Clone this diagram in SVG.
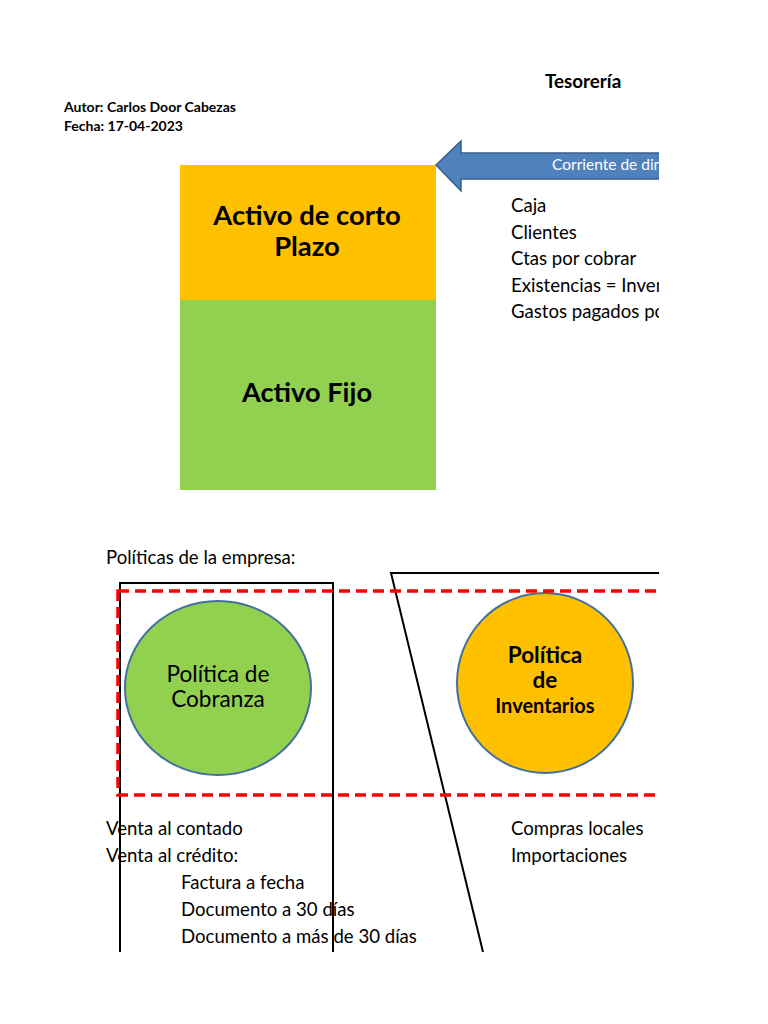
<svg xmlns="http://www.w3.org/2000/svg" width="768" height="1024" viewBox="0 0 768 1024">
<defs>
<clipPath id="page"><rect x="0" y="0" width="659" height="1024"/></clipPath>
<style>
text{font-family:Lato,"Open Sans","Liberation Sans",sans-serif;fill:#000}
.b{font-weight:bold}
.body{font-size:18.6px}
.circ{stroke:#41719C;stroke-width:2}
.blk{fill:none;stroke:#000;stroke-width:2}
.dash{fill:none;stroke:#FF0000;stroke-width:3.5;stroke-dasharray:11 6}
</style>
</defs>
<rect width="768" height="1024" fill="#fff"/>
<g clip-path="url(#page)">
<g id="header">
<text class="b" x="545" y="88" font-size="18.8">Tesorería</text>
<text class="b" x="64" y="112" font-size="14">Autor: Carlos Door Cabezas</text>
<text class="b" x="64" y="131" font-size="14">Fecha: 17-04-2023</text>
</g>
<g id="activo-corto">
<rect x="180" y="165" width="256" height="135" fill="#FFC000"/>
<text class="b" x="307" y="225" font-size="27.4" text-anchor="middle">Activo de corto</text>
<text class="b" x="307" y="256" font-size="27.4" text-anchor="middle">Plazo</text>
</g>
<g id="activo-fijo">
<rect x="180" y="300" width="256" height="190" fill="#92D050"/>
<text class="b" x="307" y="402" font-size="27.2" text-anchor="middle">Activo Fijo</text>
</g>
<g id="corriente">
<path d="M436,165 L461,141 L461,153 L680,153 L680,179 L461,179 L461,191 Z" fill="#4F81BD" stroke="#385D8A" stroke-width="1.5"/>
<text x="552" y="170" font-size="15.5" style="fill:#fff">Corriente de dinero</text>
</g>
<g id="lista-activos" class="body">
<text x="511" y="212">Caja</text>
<text x="511" y="239">Clientes</text>
<text x="511" y="265">Ctas por cobrar</text>
<text x="511" y="292">Existencias = Inventarios</text>
<text x="511" y="318">Gastos pagados por adelantado</text>
</g>
<text class="body" x="106" y="564">Políticas de la empresa:</text>
<g id="politica-cobranza">
<ellipse class="circ" cx="218" cy="688" rx="93" ry="87" fill="#92D050"/>
<text x="218" y="682" font-size="22.6" text-anchor="middle">Política de</text>
<text x="218" y="707" font-size="22.6" text-anchor="middle">Cobranza</text>
</g>
<g id="politica-inventarios">
<ellipse class="circ" cx="545" cy="683" rx="88" ry="90" fill="#FFC000"/>
<text class="b" x="545" y="663" font-size="22.5" text-anchor="middle">Política</text>
<text class="b" x="545" y="688" font-size="22.5" text-anchor="middle">de</text>
<text class="b" x="545" y="713" font-size="20" text-anchor="middle">Inventarios</text>
</g>
<g id="detalle-cobranza" class="body">
<text x="106" y="835">Venta al contado</text>
<text x="106" y="862">Venta al crédito:</text>
<text x="181" y="889">Factura a fecha</text>
<text x="181" y="916">Documento a 30 días</text>
<text x="181" y="943">Documento a más de 30 días</text>
</g>
<g id="detalle-inventarios" class="body">
<text x="511" y="835">Compras locales</text>
<text x="511" y="862">Importaciones</text>
</g>
<g id="connectors">
<path class="blk" d="M120,952 L120,583 L333,583 L333,952"/>
<path class="blk" d="M483,952 L391,573 L680,573"/>
<rect class="dash" x="118" y="591" width="600" height="204"/>
</g>
</g>
</svg>
